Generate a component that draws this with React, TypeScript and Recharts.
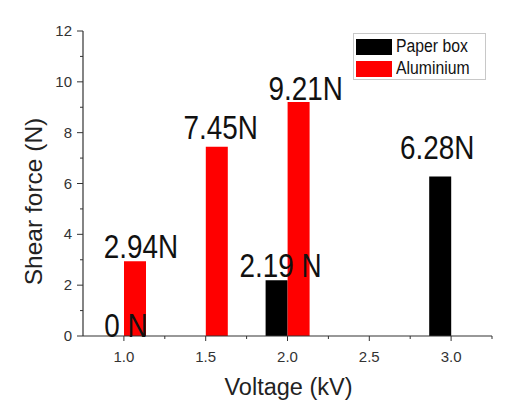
import React from 'react';
import { BarChart, Bar, XAxis, YAxis, Legend, LabelList, Label, ReferenceDot } from 'recharts';

const voltages = [1.0, 1.5, 2.0, 2.5, 3.0];
const paperBox: (number | null)[] = [0, null, 2.19, null, 6.28];
const aluminium: (number | null)[] = [2.94, 7.45, 9.21, null, null];
const paperLabels = ['0 N', '', '2.19 N', '', '6.28N'];
const aluLabels = ['2.94N', '7.45N', '9.21N', '', ''];
const xTicks = [1.0, 1.25, 1.5, 1.75, 2.0, 2.25, 2.5, 2.75, 3.0, 3.25];
const yTicks = [0, 1, 2, 3, 4, 5, 6, 7, 8, 9, 10, 11, 12];

// label nudges (dx from bar centre, dy of baseline from bar top)
const paperShift = [[13, 1], [0, 0], [4, -3], [0, 0], [-3, -17]];
const aluShift = [[6, -3], [4, -8], [7, -2], [0, 0], [0, 0]];

const data = voltages.map((v, i) => ({ v, paper: paperBox[i], alu: aluminium[i] }));

const AXIS = '#333';
const BAR_SIZE = 22;
const SANS = "Arial, 'Liberation Sans', sans-serif";

const XTick = (props: any) => {
  const { x, y, payload } = props;
  const v = payload.value as number;
  const major = Math.abs(v * 2 - Math.round(v * 2)) < 1e-6;
  return (
    <g>
      <line x1={x} x2={x} y1={y} y2={y + (major ? 5 : 3)} stroke={AXIS} strokeWidth={1} />
      {major && (
        <text x={x} y={y + 26} textAnchor="middle" fontSize={15} fill="#333" fontFamily={SANS}>
          {v.toFixed(1)}
        </text>
      )}
    </g>
  );
};

const YTick = (props: any) => {
  const { x, y, payload } = props;
  const v = payload.value as number;
  const major = v % 2 === 0;
  return (
    <g>
      <line x1={x} x2={x - (major ? 6 : 3)} y1={y} y2={y} stroke={AXIS} strokeWidth={1} />
      {major && (
        <text x={x - 11} y={y + 5} textAnchor="end" fontSize={15} fill="#333" fontFamily={SANS}>
          {v}
        </text>
      )}
    </g>
  );
};

const NarrowText = ({ cx, y, text }: { cx: number; y: number; text: string }) => (
  <text
    transform={`translate(${cx} ${y}) scale(0.82 1)`}
    x={0}
    y={0}
    textAnchor="middle"
    fontSize={34}
    fill="#111"
    fontFamily={SANS}
  >
    {text}
  </text>
);

const makeLabel = (series: (number | null)[], texts: string[], shifts: number[][]) => (props: any) => {
  const { x, y, width, value } = props;
  const idx = series.findIndex((s) => s !== null && s === Number(value));
  if (idx < 0) return null;
  const t = texts[idx];
  if (!t) return null;
  const [dx, dy] = shifts[idx];
  return <NarrowText cx={Number(x) + Number(width) / 2 + dx} y={Number(y) + dy} text={t} />;
};

const LegendBox = () => (
  <div
    style={{
      width: 133,
      height: 47,
      border: '1px solid #c8c8c8',
      boxSizing: 'border-box',
      background: '#fff',
      position: 'relative',
      fontFamily: SANS,
      fontSize: 17.5,
      color: '#111',
    }}
  >
    {[
      { name: 'Paper box', color: '#000' },
      { name: 'Aluminium', color: '#ff0000' },
    ].map((it, i) => (
      <div key={it.name} style={{ position: 'absolute', left: 2, top: 4 + i * 22, height: 17, display: 'flex', alignItems: 'center' }}>
        <div style={{ width: 36, height: 16, background: it.color }} />
        <span
          style={{
            marginLeft: 4,
            lineHeight: '17px',
            display: 'inline-block',
            transform: 'scaleX(0.9)',
            transformOrigin: 'left center',
            whiteSpace: 'nowrap',
          }}
        >
          {it.name}
        </span>
      </div>
    ))}
  </div>
);

export default function App() {
  return (
    <div style={{ position: 'absolute', left: 0, top: 0, width: 523, height: 411, background: '#fff' }}>
      <BarChart
        width={523}
        height={411}
        data={data}
        margin={{ top: 31, right: 31, bottom: 35, left: 33 }}
        barGap={0}
        barSize={BAR_SIZE}
      >
        <XAxis
          xAxisId={0}
          type="number"
          dataKey="v"
          domain={[0.75, 3.25]}
          allowDataOverflow
          ticks={xTicks}
          interval={0}
          tick={<XTick />}
          tickLine={false}
          tickSize={0}
          tickMargin={0}
          height={40}
          axisLine={{ stroke: AXIS, strokeWidth: 1.2 }}
        >
          <Label
            content={(p: any) => {
              const vb = p.viewBox || { x: 83, y: 336, width: 409 };
              return (
                <text x={vb.x + vb.width / 2 + 1} y={vb.y + 59} textAnchor="middle" fontSize={23.5} fill="#222" fontFamily={SANS}>
                  Voltage (kV)
                </text>
              );
            }}
          />
        </XAxis>
        <XAxis
          xAxisId="top"
          orientation="top"
          type="number"
          dataKey="v"
          domain={[0.75, 3.25]}
          allowDataOverflow
          tick={false}
          tickLine={false}
          height={0}
          axisLine={{ stroke: AXIS, strokeWidth: 1.2 }}
        />
        <YAxis
          yAxisId={0}
          type="number"
          domain={[0, 12]}
          ticks={yTicks}
          interval={0}
          tick={<YTick />}
          tickLine={false}
          tickSize={0}
          tickMargin={0}
          width={50}
          axisLine={{ stroke: AXIS, strokeWidth: 1.2 }}
        >
          <Label
            content={(p: any) => {
              const vb = p.viewBox || { x: 33, y: 31, height: 305 };
              const cx = 42;
              const cy = vb.y + vb.height / 2 + 18;
              return (
                <text x={cx} y={cy} transform={`rotate(-90 ${cx} ${cy})`} textAnchor="middle" fontSize={24.5} fill="#222" fontFamily={SANS}>
                  Shear force (N)
                </text>
              );
            }}
          />
        </YAxis>
        <YAxis
          yAxisId="right"
          orientation="right"
          type="number"
          domain={[0, 12]}
          tick={false}
          tickLine={false}
          width={0}
          axisLine={{ stroke: AXIS, strokeWidth: 1.2 }}
        />
        <Legend
          layout="horizontal"
          align="center"
          verticalAlign="middle"
          content={() => <LegendBox />}
          wrapperStyle={{ position: 'absolute', left: 353, top: 33, width: 133, height: 47 }}
        />
        <Bar dataKey="paper" name="Paper box" fill="#000" isAnimationActive={false}>
          <LabelList dataKey="paper" content={makeLabel(paperBox, paperLabels, paperShift)} />
        </Bar>
        <Bar dataKey="alu" name="Aluminium" fill="#ff0000" isAnimationActive={false}>
          <LabelList dataKey="alu" content={makeLabel(aluminium, aluLabels, aluShift)} />
        </Bar>
        {paperBox.map((val, i) =>
          val === 0 ? (
            <ReferenceDot
              key={`zero-${i}`}
              x={voltages[i]}
              y={val}
              r={0}
              fill="none"
              stroke="none"
              ifOverflow="visible"
              label={(p: any) => {
                const vb = p.viewBox || { x: 0, y: 0 };
                const [dx, dy] = paperShift[i];
                return <NarrowText cx={vb.x - BAR_SIZE / 2 + dx} y={vb.y + dy} text={paperLabels[i]} />;
              }}
            />
          ) : null
        )}
      </BarChart>
    </div>
  );
}
